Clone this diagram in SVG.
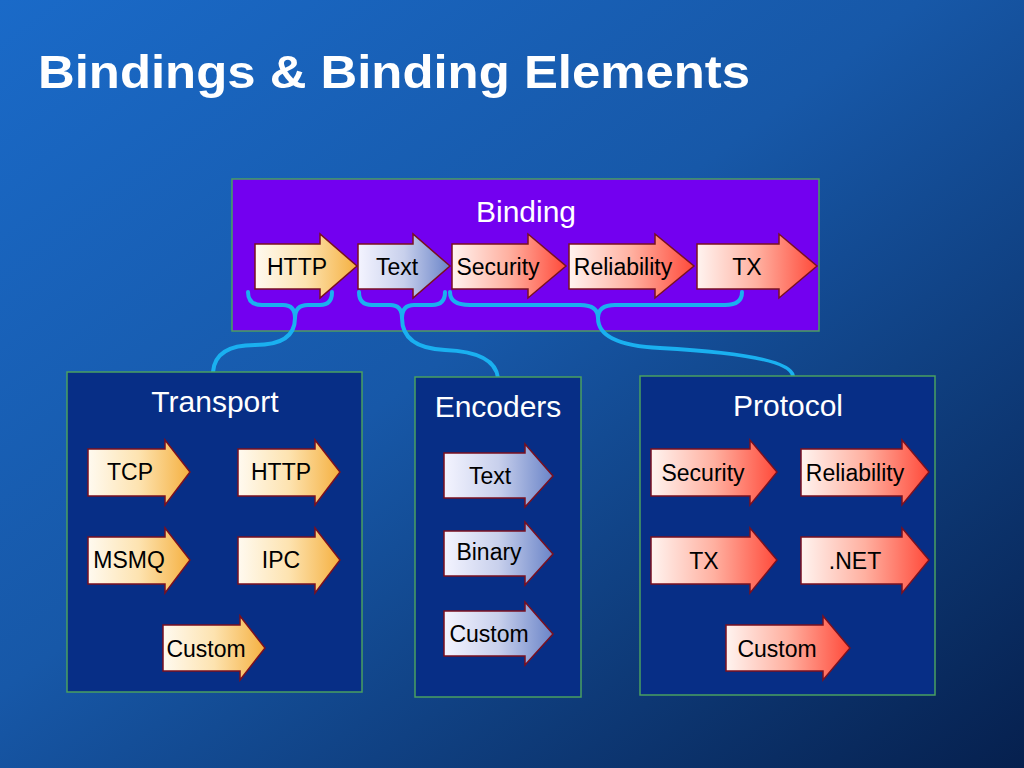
<svg xmlns="http://www.w3.org/2000/svg" width="1024" height="768" viewBox="0 0 1024 768">
<defs>
<linearGradient id="bg" x1="0" y1="0" x2="1" y2="1"><stop offset="0" stop-color="#1a6ac8"/><stop offset="0.45" stop-color="#1758a8"/><stop offset="1" stop-color="#06204e"/></linearGradient>
<linearGradient id="gy" x1="0" y1="0" x2="1" y2="0"><stop offset="0" stop-color="#fffaf0"/><stop offset="0.5" stop-color="#fde3b0"/><stop offset="1" stop-color="#f5b040"/></linearGradient>
<linearGradient id="gb" x1="0" y1="0" x2="1" y2="0"><stop offset="0" stop-color="#f4f4ff"/><stop offset="0.5" stop-color="#c8d0ec"/><stop offset="1" stop-color="#6a84c8"/></linearGradient>
<linearGradient id="gr" x1="0" y1="0" x2="1" y2="0"><stop offset="0" stop-color="#fff4f0"/><stop offset="0.5" stop-color="#ffb0a0"/><stop offset="1" stop-color="#ff4a3a"/></linearGradient>
<style>
.ay{fill:url(#gy);stroke:#7a1020;stroke-width:1.5}
.ab{fill:url(#gb);stroke:#7a1020;stroke-width:1.5}
.ar{fill:url(#gr);stroke:#7a1020;stroke-width:1.5}
.box{fill:#072e86;stroke:#4aa060;stroke-width:1.5}
.t{font-family:"Liberation Sans",Arial,sans-serif;font-size:23px;fill:#000;text-anchor:middle}
.h{font-family:"Liberation Sans",Arial,sans-serif;font-size:30px;fill:#fff;text-anchor:middle}
.c{fill:none;stroke:#1ab0f0;stroke-width:4;stroke-linecap:round}
</style>
</defs>
<rect width="1024" height="768" fill="url(#bg)"/>
<text x="38" y="88" font-family="Liberation Sans,Arial,sans-serif" font-size="46" font-weight="bold" fill="#fff" textLength="712" lengthAdjust="spacingAndGlyphs">Bindings &amp; Binding Elements</text>

<g id="binding"><rect x="232" y="179" width="587" height="152" fill="#7300f0" stroke="#4aa060" stroke-width="1.5"/><text class="h" x="526" y="222">Binding</text></g>
<g id="b-http"><path class="ay" d="M255,244H320V234L357,266L320,298V289H255Z"/><text class="t" x="297" y="275">HTTP</text></g>
<g id="b-text"><path class="ab" d="M358,244H413V234L450,266L413,298V289H358Z"/><text class="t" x="397" y="275">Text</text></g>
<g id="b-sec"><path class="ar" d="M452,244H528V234L566,266L528,298V289H452Z"/><text class="t" x="498" y="275">Security</text></g>
<g id="b-rel"><path class="ar" d="M569,244H655V234L694,266L655,298V289H569Z"/><text class="t" x="623" y="275">Reliability</text></g>
<g id="b-tx"><path class="ar" d="M697,244H779V234L817,266L779,298V289H697Z"/><text class="t" x="747" y="275">TX</text></g>

<g id="connectors">
<path class="c" d="M248,292Q248,305 262,305H283Q295,305 295,318Q295,305 308,305H320Q332,305 332,292"/>
<path class="c" d="M295,318Q295,345 255,345Q215,345 213,372"/>
<path class="c" d="M359,292Q359,305 372,305H390Q402,305 402,318Q402,305 414,305H432Q445,305 445,292"/>
<path class="c" d="M402,318Q402,348 445,350Q495,352 498,378"/>
<path class="c" d="M450,292Q450,305 470,305H580Q598,305 598,318Q598,305 615,305H725Q742,305 742,292"/>
<path class="c" d="M598,318Q598,345 660,348Q790,355 793,376"/>
</g>

<g id="transport"><rect class="box" x="67" y="372" width="295" height="320"/><text class="h" x="215" y="412">Transport</text></g>
<g id="t-tcp"><path class="ay" d="M88,449H165V440L190,472L165,505V496H88Z"/><text class="t" x="130" y="480">TCP</text></g>
<g id="t-http"><path class="ay" d="M238,449H315V440L340,472L315,505V496H238Z"/><text class="t" x="281" y="480">HTTP</text></g>
<g id="t-msmq"><path class="ay" d="M88,537H165V528L190,560L165,593V584H88Z"/><text class="t" x="129" y="568">MSMQ</text></g>
<g id="t-ipc"><path class="ay" d="M238,537H315V528L340,560L315,593V584H238Z"/><text class="t" x="281" y="568">IPC</text></g>
<g id="t-custom"><path class="ay" d="M163,625H240V616L265,648L240,680V671H163Z"/><text class="t" x="206" y="657">Custom</text></g>

<g id="encoders"><rect class="box" x="415" y="377" width="166" height="320"/><text class="h" x="498" y="417">Encoders</text></g>
<g id="e-text"><path class="ab" d="M444,453H525V444L553,476L525,507V498H444Z"/><text class="t" x="490" y="484">Text</text></g>
<g id="e-bin"><path class="ab" d="M444,531H525V522L553,554L525,585V576H444Z"/><text class="t" x="489" y="560">Binary</text></g>
<g id="e-custom"><path class="ab" d="M444,611H525V602L553,634L525,665V656H444Z"/><text class="t" x="489" y="642">Custom</text></g>

<g id="protocol"><rect class="box" x="640" y="376" width="295" height="319"/><text class="h" x="788" y="416">Protocol</text></g>
<g id="p-sec"><path class="ar" d="M651,449H750V440L777,472L750,505V496H651Z"/><text class="t" x="703" y="481">Security</text></g>
<g id="p-rel"><path class="ar" d="M801,449H902V440L929,472L902,505V496H801Z"/><text class="t" x="855" y="481">Reliability</text></g>
<g id="p-tx"><path class="ar" d="M651,537H750V528L777,560L750,593V584H651Z"/><text class="t" x="704" y="569">TX</text></g>
<g id="p-net"><path class="ar" d="M801,537H902V528L929,560L902,593V584H801Z"/><text class="t" x="855" y="569">.NET</text></g>
<g id="p-custom"><path class="ar" d="M726,625H823V616L850,648L823,680V671H726Z"/><text class="t" x="777" y="657">Custom</text></g>
</svg>
